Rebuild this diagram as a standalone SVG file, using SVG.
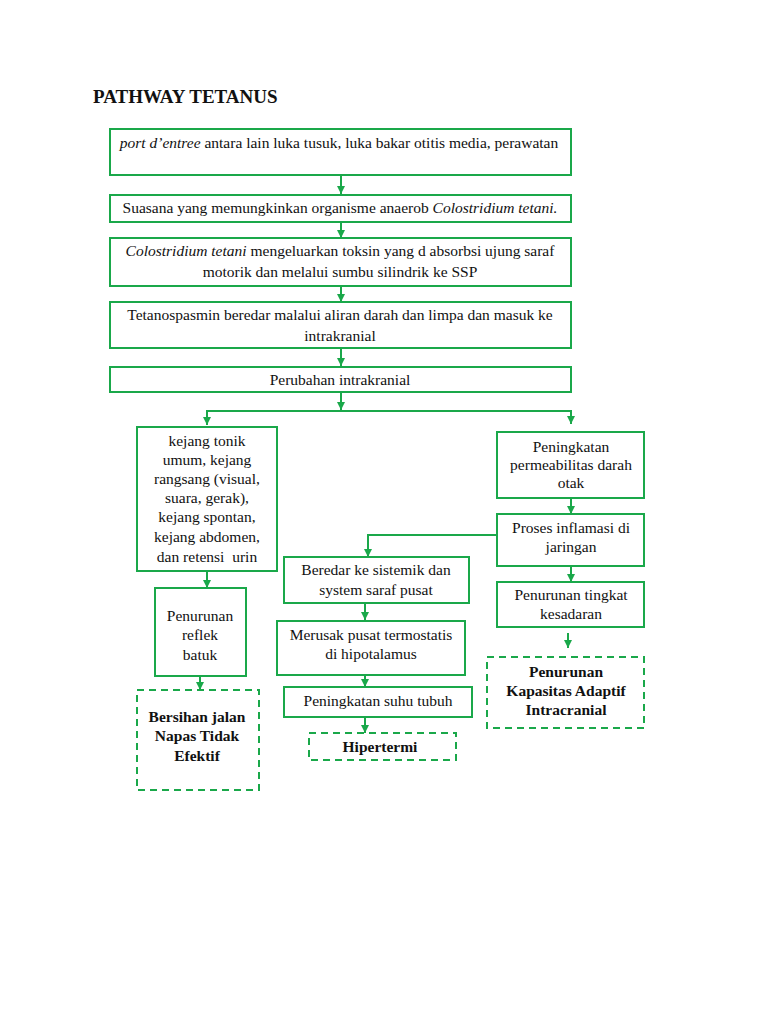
<svg xmlns="http://www.w3.org/2000/svg" width="768" height="1024" viewBox="0 0 768 1024">
<style>
.b{fill:#fff;stroke:#1aa84a;stroke-width:2}
.d{fill:#fff;stroke:#1aa84a;stroke-width:2;stroke-dasharray:7,5}
.t{font-family:"Liberation Serif","Times New Roman",serif;font-size:15.5px;fill:#111;text-anchor:middle;white-space:pre}
.bt{font-family:"Liberation Serif","Times New Roman",serif;font-size:15.5px;font-weight:bold;fill:#111;text-anchor:middle}
.c{fill:none;stroke:#1aa84a;stroke-width:2}
</style>
<defs>
<marker id="ah" markerUnits="userSpaceOnUse" markerWidth="10" markerHeight="8" refX="8" refY="4" orient="auto">
<path d="M0,0 L8,4 L0,8 Z" fill="#1aa84a"/>
</marker>
</defs>
<rect width="768" height="1024" fill="#fff"/>
<text x="93" y="103" font-family="Liberation Serif,serif" font-size="19" font-weight="bold" fill="#111">PATHWAY TETANUS</text>

<g id="connectors">
<path class="c" d="M341,175 V194" marker-end="url(#ah)"/>
<path class="c" d="M341,222 V238" marker-end="url(#ah)"/>
<path class="c" d="M341,286 V302" marker-end="url(#ah)"/>
<path class="c" d="M341,348 V366" marker-end="url(#ah)"/>
<path class="c" d="M341,392 V410" marker-end="url(#ah)"/>
<path class="c" d="M207,425 V411 H571 V424" />
<path class="c" d="M207,415 V425" marker-end="url(#ah)"/>
<path class="c" d="M571,415 V424" marker-end="url(#ah)"/>
<path class="c" d="M207,571 V588" marker-end="url(#ah)"/>
<path class="c" d="M237,596 V610" marker-end="url(#ah)"/>
<path class="c" d="M200,676 V690" marker-end="url(#ah)"/>
<path class="c" d="M497,535 H368 V557" marker-end="url(#ah)"/>
<path class="c" d="M365,603 V620" marker-end="url(#ah)"/>
<path class="c" d="M365,675 V687" marker-end="url(#ah)"/>
<path class="c" d="M365,717 V733" marker-end="url(#ah)"/>
<path class="c" d="M571,498 V514" marker-end="url(#ah)"/>
<path class="c" d="M571,566 V582" marker-end="url(#ah)"/>
<path class="c" d="M568,633 V648" marker-end="url(#ah)"/>
</g>

<g id="n1"><rect class="b" x="110" y="129" width="461" height="46"/>
<text class="t" x="339" y="148"><tspan font-style="italic">port d’entree</tspan> antara lain luka tusuk, luka bakar otitis media, perawatan</text></g>
<g id="n2"><rect class="b" x="110" y="195" width="461" height="27"/>
<text class="t" x="340" y="213">Suasana yang memungkinkan organisme anaerob <tspan font-style="italic">Colostridium tetani.</tspan></text></g>
<g id="n3"><rect class="b" x="110" y="238" width="461" height="48"/>
<text class="t" x="340" y="256"><tspan font-style="italic">Colostridium tetani</tspan> mengeluarkan toksin yang d absorbsi ujung saraf</text>
<text class="t" x="340" y="277">motorik dan melalui sumbu silindrik ke SSP</text></g>
<g id="n4"><rect class="b" x="110" y="302" width="461" height="46"/>
<text class="t" x="340" y="320">Tetanospasmin beredar malalui aliran darah dan limpa dan masuk ke</text>
<text class="t" x="340" y="341">intrakranial</text></g>
<g id="n5"><rect class="b" x="110" y="367" width="461" height="25"/>
<text class="t" x="340" y="385">Perubahan intrakranial</text></g>

<g id="n6"><rect class="b" x="137" y="427" width="140" height="144"/>
<text class="t" x="207" y="446">kejang tonik</text>
<text class="t" x="207" y="465">umum, kejang</text>
<text class="t" x="207" y="484">rangsang (visual,</text>
<text class="t" x="207" y="503">suara, gerak),</text>
<text class="t" x="207" y="522">kejang spontan,</text>
<text class="t" x="207" y="542">kejang abdomen,</text>
<text class="t" x="207" y="562">dan retensi  urin</text></g>
<g id="n7"><rect class="b" x="155" y="588" width="91" height="88"/>
<text class="t" x="200" y="621">Penurunan</text>
<text class="t" x="200" y="640">reflek</text>
<text class="t" x="200" y="660">batuk</text></g>
<g id="n8"><rect class="d" x="137" y="690" width="122" height="100"/>
<text class="bt" x="197" y="722">Bersihan jalan</text>
<text class="bt" x="197" y="741">Napas Tidak</text>
<text class="bt" x="197" y="761">Efektif</text></g>

<g id="n9"><rect class="b" x="284" y="557" width="185" height="46"/>
<text class="t" x="376" y="575">Beredar ke sistemik dan</text>
<text class="t" x="376" y="595">system saraf pusat</text></g>
<g id="n10"><rect class="b" x="277" y="621" width="188" height="54"/>
<text class="t" x="371" y="640">Merusak pusat termostatis</text>
<text class="t" x="371" y="659">di hipotalamus</text></g>
<g id="n11"><rect class="b" x="284" y="687" width="188" height="30"/>
<text class="t" x="378" y="706">Peningkatan suhu tubuh</text></g>
<g id="n12"><rect class="d" x="309" y="733" width="147" height="27"/>
<text class="bt" x="380" y="752">Hipertermi</text></g>

<g id="n13"><rect class="b" x="497" y="432" width="147" height="66"/>
<text class="t" x="571" y="452">Peningkatan</text>
<text class="t" x="571" y="470">permeabilitas darah</text>
<text class="t" x="571" y="488">otak</text></g>
<g id="n14"><rect class="b" x="497" y="514" width="147" height="52"/>
<text class="t" x="571" y="533">Proses inflamasi di</text>
<text class="t" x="571" y="552">jaringan</text></g>
<g id="n15"><rect class="b" x="497" y="582" width="147" height="45"/>
<text class="t" x="571" y="600">Penurunan tingkat</text>
<text class="t" x="571" y="619">kesadaran</text></g>
<g id="n16"><rect class="d" x="487" y="657" width="157" height="71"/>
<text class="bt" x="566" y="677">Penurunan</text>
<text class="bt" x="566" y="696">Kapasitas Adaptif</text>
<text class="bt" x="566" y="715">Intracranial</text></g>
</svg>
